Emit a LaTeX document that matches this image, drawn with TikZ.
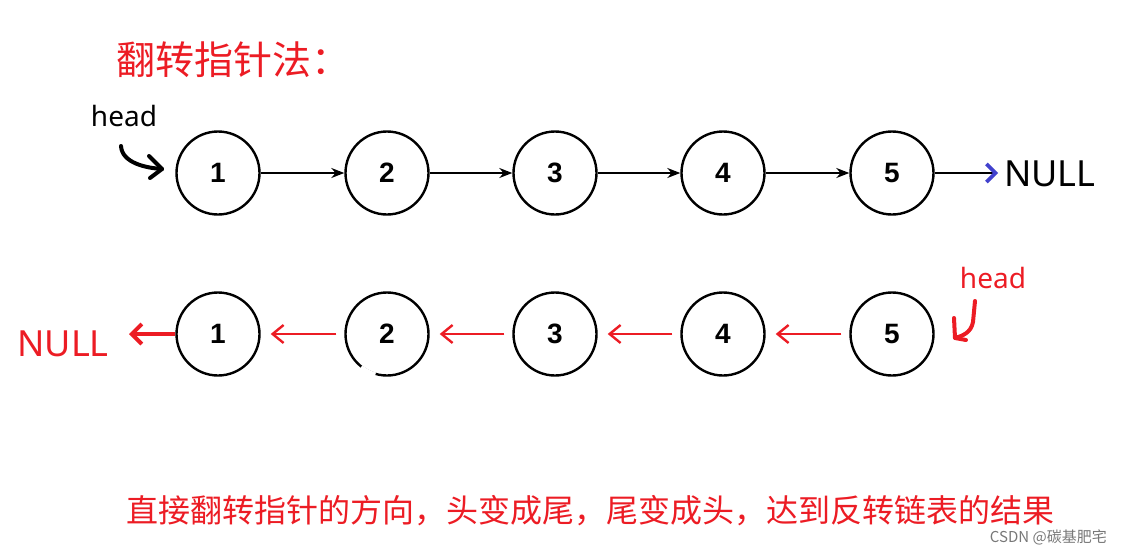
\documentclass[tikz,border=0pt]{standalone}
\usepackage{fontspec}
\setmainfont{Noto Sans}
\newfontfamily\cjk{Noto Sans CJK SC}
\newfontfamily\arialfont{Liberation Sans}
\usetikzlibrary{arrows.meta}
\definecolor{myred}{RGB}{236,28,36}
\definecolor{myblue}{RGB}{65,65,205}
\definecolor{wmgray}{RGB}{120,120,120}
\begin{document}
\begin{tikzpicture}[x=1pt,y=-1pt,
  lnode/.style={circle, draw=black, line width=2.4pt, minimum size=83pt, inner sep=0pt,
    font=\arialfont\bfseries\fontsize{28}{28}\selectfont},
  fwd/.style={line width=1.6pt, -{Stealth[length=13pt,width=10pt]}},
  back/.style={myred, line width=1.8pt, -{Straight Barb[length=11pt,width=18pt,line width=2.4pt]}},
  lbl/.style={inner sep=0pt, font=\fontsize{28}{28}\selectfont},
  nulltext/.style={inner sep=0pt, font=\fontsize{36}{36}\selectfont},
  hand/.style={line width=4pt, line cap=round, line join=round},
]
\useasboundingbox (0,0) rectangle (1122,555);

% title
\node[anchor=west, inner sep=0pt, text=myred, font=\cjk\fontsize{39}{39}\selectfont] (title) at (116,60) {翻转指针法：};

% top row
\node[lnode] (a1) at (218,173) {1};
\node[lnode] (a2) at (387,173) {2};
\node[lnode] (a3) at (555,173) {3};
\node[lnode] (a4) at (723,173) {4};
\node[lnode] (a5) at (892,173) {5};
\draw[fwd] (a1) -- (a2);
\draw[fwd] (a2) -- (a3);
\draw[fwd] (a3) -- (a4);
\draw[fwd] (a4) -- (a5);
\node[nulltext, anchor=base west] (nullT) at (1004,186) {NULL};
\draw[line width=1.6pt, -{Straight Barb[color=myblue,length=9pt,width=18pt,line width=3.6pt]}] (a5.east) -- ([xshift=-6pt]nullT.west |- a5.east);

% black head
\node[lbl, anchor=base] (headT) at (124,126) {head};
\coordinate (hs) at (121,146);
\coordinate (he) at (162,169);
\draw[hand] (hs) .. controls (122,163) and (146,168) .. (he);
\draw[hand] (149,156) -- (he) -- (150,178);

% bottom row
\node[lnode] (b1) at (218,334) {1};
\node[lnode] (b2) at (387,334) {2};
\node[lnode] (b3) at (555,334) {3};
\node[lnode] (b4) at (723,334) {4};
\node[lnode] (b5) at (892,334) {5};
% gap in circle 2
\draw[white, line width=4pt] (b2) ++(232:42pt) arc[start angle=232, end angle=254, radius=42pt];
\draw[back] ([xshift=-8pt]b2.west) -- ([xshift=10pt]b1.east);
\draw[back] ([xshift=-8pt]b3.west) -- ([xshift=10pt]b2.east);
\draw[back] ([xshift=-8pt]b4.west) -- ([xshift=10pt]b3.east);
\draw[back] ([xshift=-8pt]b5.west) -- ([xshift=10pt]b4.east);
\node[nulltext, anchor=base east, text=myred] (nullB) at (109,356) {NULL};
\draw[myred, line width=4pt, -{Straight Barb[length=10pt,width=20pt,line width=4pt]}] (b1.west) -- ([xshift=20pt]nullB.east |- b1.west);

% red head
\node[lbl, anchor=base, text=myred] (headB) at (993,288) {head};
\coordinate (rs) at (975,301);
\coordinate (re) at (955,338);
\draw[hand, myred] (rs) -- (973,322) .. controls (971,333) and (962,336) .. (re);
\draw[hand, myred] (954,318) -- (re) -- (966,340);

% caption
\node[anchor=west, inner sep=0pt, text=myred, font=\cjk\fontsize{32}{32}\selectfont] (caption) at (126,511) {直接翻转指针的方向，头变成尾，尾变成头，达到反转链表的结果};

% watermark
\node[anchor=east, inner sep=0pt, text=wmgray, font=\cjk\fontsize{15}{15}\selectfont] (wm) at (1107,537) {CSDN @碳基肥宅};
\end{tikzpicture}
\end{document}
